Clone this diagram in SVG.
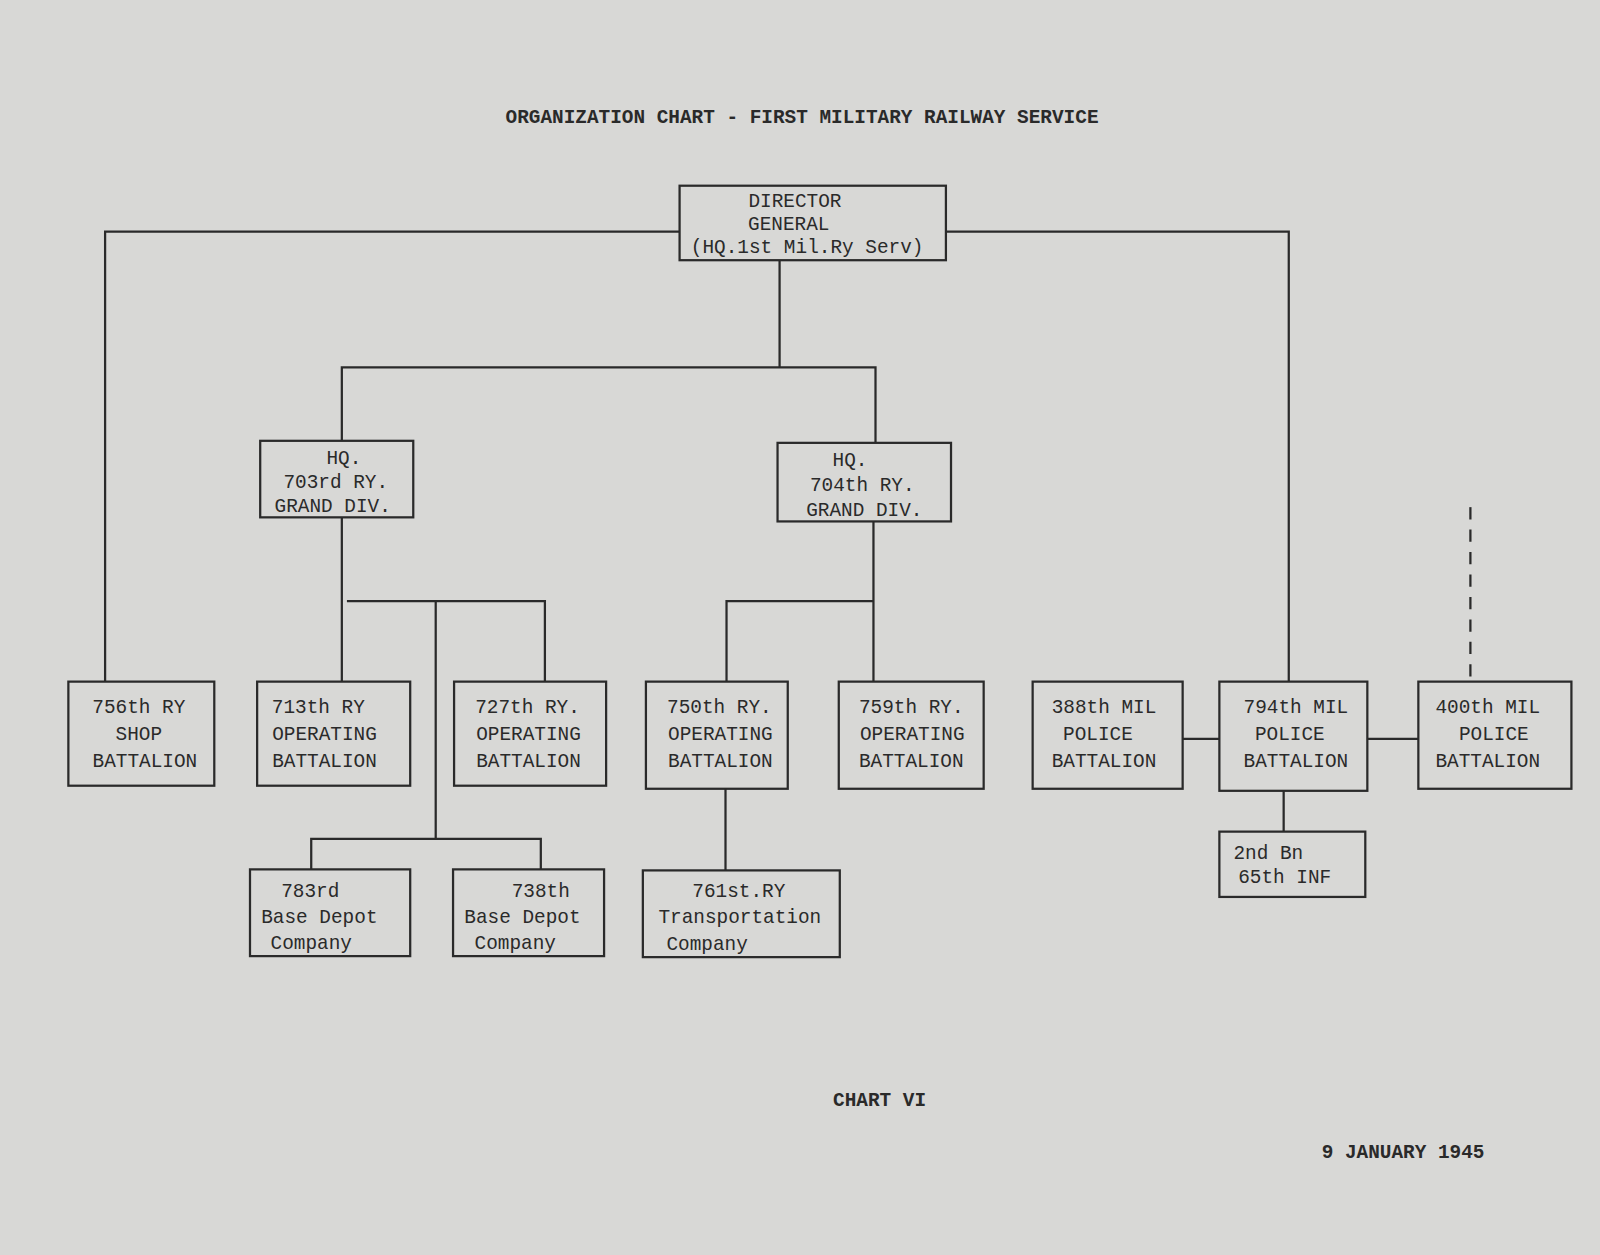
<svg xmlns="http://www.w3.org/2000/svg" width="1600" height="1255" viewBox="0 0 1600 1255">
<style>
.b{fill:none;stroke:#2a2a2a;stroke-width:2.2}
.c{fill:none;stroke:#2a2a2a;stroke-width:2.2}
text{font-family:"Liberation Mono","DejaVu Sans Mono",monospace;font-size:19px;fill:#2a2a2a;text-anchor:middle}
</style>
<rect width="1600" height="1255" fill="#d8d8d6"/>
<g transform="scale(1.0204)">
<text x="786" y="121" font-weight="bold">ORGANIZATION CHART - FIRST MILITARY RAILWAY SERVICE</text>
<g id="connectors">
<path class="c" d="M666 227H103V668M927 227H1263V668M764 255V360M335 432V360H858V434M335 507V668M340 589H534V668M427 589V822M305 852V822H530V852M856 511V668M712 668V589H856M711 773V853M1159 724H1195M1340 724H1390M1258 775V815"/>
<path class="c" d="M1441 497V668" stroke-dasharray="12,10"/>
</g>
<g id="director"><rect class="b" x="666" y="182" width="261" height="73"/><text x="779" y="203">DIRECTOR</text><text x="773" y="225">GENERAL</text><text x="791" y="248" font-size="18">(HQ.1st Mil.Ry Serv)</text></g>
<g id="gd703"><rect class="b" x="255" y="432" width="150" height="75"/><text x="337" y="455">HQ.</text><text x="329" y="478">703rd RY.</text><text x="326" y="502">GRAND DIV.</text></g>
<g id="gd704"><rect class="b" x="762" y="434" width="170" height="77"/><text x="833" y="457">HQ.</text><text x="845" y="481">704th RY.</text><text x="847" y="506">GRAND DIV.</text></g>
<g id="n756"><rect class="b" x="67" y="668" width="143" height="102"/><text x="136" y="699">756th RY</text><text x="136" y="725">SHOP</text><text x="142" y="752">BATTALION</text></g>
<g id="n713"><rect class="b" x="252" y="668" width="150" height="102"/><text x="312" y="699">713th RY</text><text x="318" y="725">OPERATING</text><text x="318" y="752">BATTALION</text></g>
<g id="n727"><rect class="b" x="445" y="668" width="149" height="102"/><text x="517" y="699">727th RY.</text><text x="518" y="725">OPERATING</text><text x="518" y="752">BATTALION</text></g>
<g id="n750"><rect class="b" x="633" y="668" width="139" height="105"/><text x="705" y="699">750th RY.</text><text x="706" y="725">OPERATING</text><text x="706" y="752">BATTALION</text></g>
<g id="n759"><rect class="b" x="822" y="668" width="142" height="105"/><text x="893" y="699">759th RY.</text><text x="894" y="725">OPERATING</text><text x="893" y="752">BATTALION</text></g>
<g id="n388"><rect class="b" x="1012" y="668" width="147" height="105"/><text x="1082" y="699">388th MIL</text><text x="1076" y="725">POLICE</text><text x="1082" y="752">BATTALION</text></g>
<g id="n794"><rect class="b" x="1195" y="668" width="145" height="107"/><text x="1270" y="699">794th MIL</text><text x="1264" y="725">POLICE</text><text x="1270" y="752">BATTALION</text></g>
<g id="n400"><rect class="b" x="1390" y="668" width="150" height="105"/><text x="1458" y="699">400th MIL</text><text x="1464" y="725">POLICE</text><text x="1458" y="752">BATTALION</text></g>
<g id="n2bn"><rect class="b" x="1195" y="815" width="143" height="64"/><text x="1243" y="842">2nd Bn</text><text x="1259" y="865">65th INF</text></g>
<g id="n783"><rect class="b" x="245" y="852" width="157" height="85"/><text x="304" y="879">783rd</text><text x="313" y="905">Base Depot</text><text x="305" y="930">Company</text></g>
<g id="n738"><rect class="b" x="444" y="852" width="148" height="85"/><text x="530" y="879">738th</text><text x="512" y="905">Base Depot</text><text x="505" y="930">Company</text></g>
<g id="n761"><rect class="b" x="630" y="853" width="193" height="85"/><text x="724" y="879">761st.RY</text><text x="725" y="905">Transportation</text><text x="693" y="931">Company</text></g>
<text x="862" y="1084" font-weight="bold">CHART VI</text>
<text x="1375" y="1135" font-weight="bold">9 JANUARY 1945</text>
</g>
</svg>
